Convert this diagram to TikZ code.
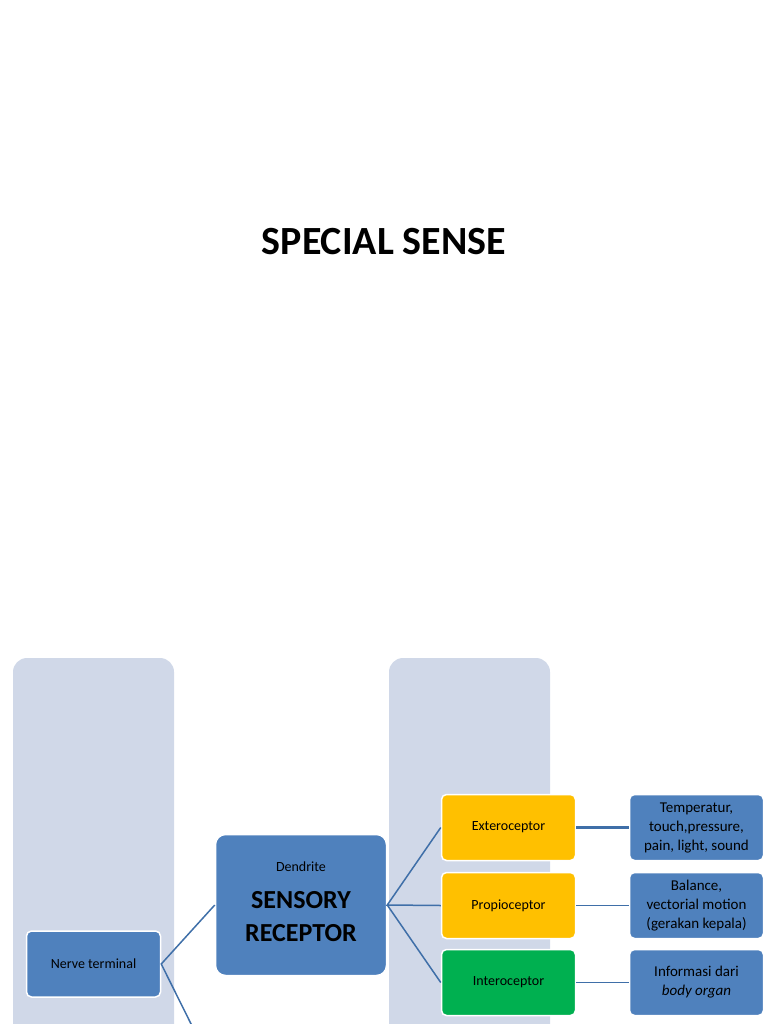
\documentclass[tikz,border=0pt]{standalone}
\usepackage{fontspec}
\setmainfont{Carlito}
\begin{document}
\begin{tikzpicture}[x=1pt,y=-1pt,
  bg/.style={fill=bgc,rounded corners=14pt},
  bx/.style={draw=white,line width=1.5pt,rounded corners=5pt,minimum width=134pt,minimum height=66pt,align=center,inner sep=1pt,font=\fontsize{14}{17}\selectfont},
  ln/.style={draw=lc,line width=1.5pt}]
\definecolor{bgc}{HTML}{D0D8E8}
\definecolor{bl}{HTML}{4F81BD}
\definecolor{yl}{HTML}{FFC000}
\definecolor{gr}{HTML}{00B050}
\definecolor{lc}{HTML}{3F6FA8}
\useasboundingbox (0,0) rectangle (768,1024);
\clip (0,0) rectangle (768,1024);
\node[font=\bfseries\fontsize{40}{44}\selectfont] (title) at (384,242) {SPECIAL SENSE};
\fill[bg] (13,658) rectangle (174,1060);
\fill[bg] (389,658) rectangle (550,1060);
\node[bx,fill=bl] (nt) at (93.5,964) {Nerve terminal};
\node[bx,fill=bl,minimum width=171pt,minimum height=141pt,rounded corners=10pt] (sr) at (301,905) {};
\node[font=\fontsize{14}{17}\selectfont] (dd) at (301,867) {Dendrite};
\node[font=\bfseries\fontsize{26}{33}\selectfont,align=center] (srt) at (301,917) {SENSORY\\RECEPTOR};
\node[bx,fill=yl] (ex) at (508.5,827.5) {Exteroceptor};
\node[bx,fill=yl] (pr) at (508.5,905.5) {Propioceptor};
\node[bx,fill=gr] (in) at (508.5,982.5) {Interoceptor};
\node[bx,fill=bl,font=\fontsize{15}{19}\selectfont] (r1) at (696.5,827.5) {Temperatur,\\touch,pressure,\\pain, light, sound};
\node[bx,fill=bl,font=\fontsize{15}{19}\selectfont] (r2) at (696.5,905.5) {Balance,\\vectorial motion\\(gerakan kepala)};
\node[bx,fill=bl,font=\fontsize{15}{19}\selectfont] (r3) at (696.5,982.5) {Informasi dari\\\textit{body organ}};
\coordinate (off) at (204,1050);
\draw[ln] (sr.west) -- (nt.east) -- (off);
\draw[ln] (ex.west) -- (sr.east) -- (pr.west);
\draw[ln] (sr.east) -- (in.west);
\draw[ln,line width=3pt] (ex.east) -- (r1.west);
\draw[ln] (pr.east) -- (r2.west);
\draw[ln] (in.east) -- (r3.west);
\end{tikzpicture}
\end{document}
